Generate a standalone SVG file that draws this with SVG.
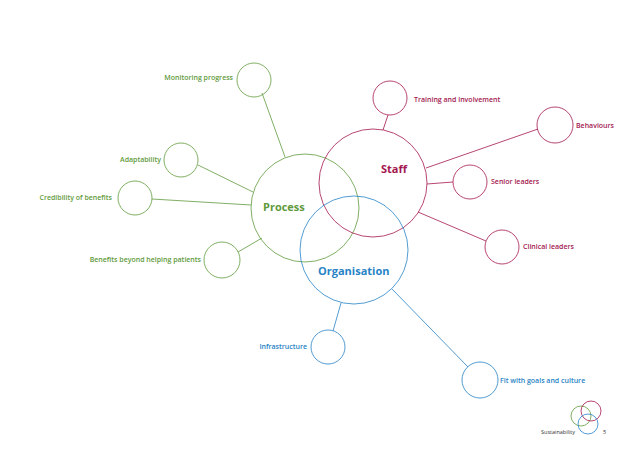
<svg xmlns="http://www.w3.org/2000/svg" width="638" height="451" viewBox="0 0 638 451">
<style>
text{font-family:"Open Sans","Liberation Sans",sans-serif;font-size:7px;font-weight:600}
.g{stroke:#5f9a3c;fill:none;stroke-width:0.8}
.r{stroke:#a3174f;fill:none;stroke-width:0.8}
.b{stroke:#2683c6;fill:none;stroke-width:0.8}
.tg{fill:#5f9a3c}.tr{fill:#a3174f}.tb{fill:#2683c6}
.big{font-size:11px;font-weight:700}
</style>
<rect width="638" height="451" fill="#fff"/>
<g id="connectors">
<line class="g" x1="262" y1="93" x2="285" y2="157"/>
<line class="g" x1="198" y1="165" x2="253" y2="192"/>
<line class="g" x1="152" y1="199" x2="251" y2="205"/>
<line class="g" x1="238" y1="252" x2="262" y2="238"/>
<line class="r" x1="388" y1="115" x2="383" y2="130"/>
<line class="r" x1="538" y1="129" x2="426" y2="168"/>
<line class="r" x1="453" y1="182" x2="427" y2="184"/>
<line class="r" x1="486" y1="241" x2="418" y2="212"/>
<line class="b" x1="333" y1="331" x2="341" y2="303"/>
<line class="b" x1="468" y1="367" x2="392" y2="289"/>
</g>
<g id="process"><circle class="g" cx="305" cy="208" r="54"/><text class="tg big" x="263" y="211">Process</text></g>
<g id="staff"><circle class="r" cx="373" cy="183" r="54"/><text class="tr big" x="381" y="173">Staff</text></g>
<g id="organisation"><circle class="b" cx="354" cy="250" r="54"/><text class="tb big" x="318" y="275">Organisation</text></g>
<g id="monitoring"><circle class="g" cx="254" cy="80" r="17"/><text class="tg" x="233" y="80" text-anchor="end">Monitoring progress</text></g>
<g id="adaptability"><circle class="g" cx="181" cy="160" r="17"/><text class="tg" x="161" y="162" text-anchor="end">Adaptability</text></g>
<g id="credibility"><circle class="g" cx="135" cy="198" r="17"/><text class="tg" x="112" y="200" text-anchor="end">Credibility of benefits</text></g>
<g id="benefits"><circle class="g" cx="222" cy="260" r="18"/><text class="tg" x="201" y="262" text-anchor="end">Benefits beyond helping patients</text></g>
<g id="training"><circle class="r" cx="390" cy="98" r="17"/><text class="tr" x="414" y="102">Training and involvement</text></g>
<g id="behaviours"><circle class="r" cx="555" cy="125" r="18"/><text class="tr" x="576" y="128">Behaviours</text></g>
<g id="senior"><circle class="r" cx="470" cy="182" r="17"/><text class="tr" x="491" y="184">Senior leaders</text></g>
<g id="clinical"><circle class="r" cx="502" cy="247" r="17"/><text class="tr" x="523" y="249">Clinical leaders</text></g>
<g id="infrastructure"><circle class="b" cx="328" cy="347" r="17"/><text class="tb" x="307" y="349" text-anchor="end">Infrastructure</text></g>
<g id="fit"><circle class="b" cx="480" cy="380" r="18"/><text class="tb" x="500" y="383">Fit with goals and culture</text></g>
<g id="footer">
<circle class="g" cx="581" cy="416" r="10" stroke-width="0.6"/>
<circle class="r" cx="591" cy="411" r="10" stroke-width="0.6"/>
<circle class="b" cx="588" cy="424" r="10" stroke-width="0.6"/>
<text x="541" y="434" style="font-size:5.5px;font-weight:400;fill:#333">Sustainability</text>
<text x="603" y="434" style="font-size:5.5px;font-weight:400;fill:#333">5</text>
</g>
</svg>
